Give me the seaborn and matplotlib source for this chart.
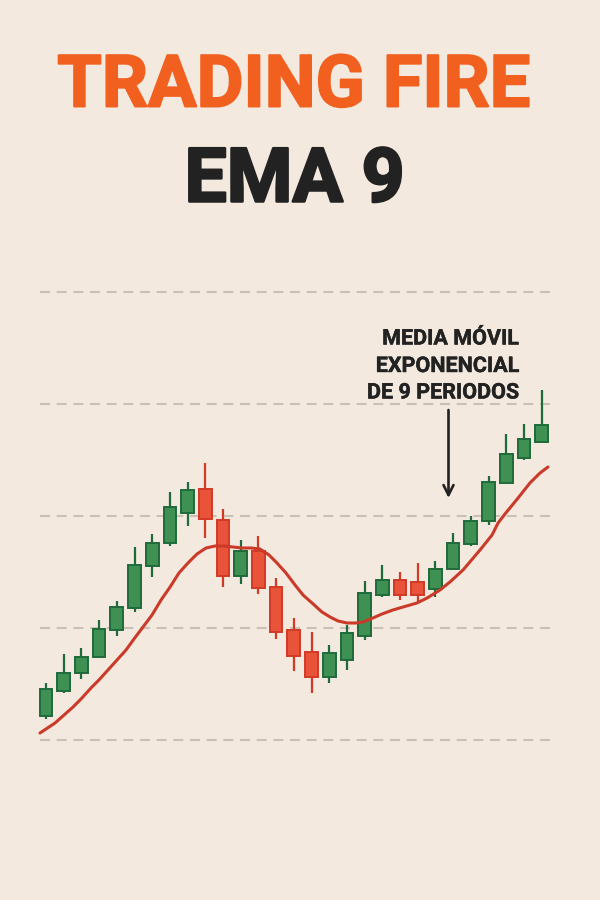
import pandas as pd
import matplotlib.pyplot as plt
import matplotlib.patheffects as pe
import seaborn as sns

# candle values, index points (0 = lowest dashed line)
open_px = [24, 49, 67, 83, 110, 132, 174, 197, 227, 251, 220, 164, 189, 153, 110, 88, 63, 80, 104, 145, 160, 158, 151, 171, 196, 219, 257, 282, 298]
close_px = [51, 67, 83, 111, 133, 175, 197, 233, 250, 221, 164, 189, 152, 108, 84, 63, 87, 107, 147, 160, 145, 145, 171, 197, 219, 258, 286, 301, 315]
high_px = [57, 86, 92, 120, 139, 193, 206, 248, 258, 277, 231, 200, 204, 162, 122, 108, 95, 115, 159, 175, 168, 177, 179, 207, 224, 264, 306, 316, 350]
low_px = [21, 47, 61, 83, 104, 128, 163, 194, 214, 202, 153, 156, 146, 101, 69, 47, 57, 70, 100, 143, 140, 137, 143, 171, 194, 215, 257, 280, 298]

# EMA, t in candle numbers
ema_t = [-0.34, 0, 0.51, 1.02, 1.53, 2.03, 2.54, 2.99, 3.5, 4.01,
         4.52, 4.97, 5.48, 5.99, 6.5, 7.01, 7.51, 8.02, 8.53, 9.04,
         9.55, 10.06, 10.56, 11.07, 11.58, 12.09, 12.6, 13.05, 13.56, 14.07,
         14.52, 15.03, 15.59, 16.05, 16.5, 17.01, 17.51, 17.91, 18.47, 18.98,
         19.6, 20.17, 20.96, 21.53, 22.26, 22.82, 23.56, 24.52, 25.2, 25.54,
         25.93, 26.67, 27.34, 27.91, 28.36]
ema_val = [7, 11, 17, 25, 33, 42, 52, 60, 70, 80,
           90, 101, 113, 125, 140, 153, 167, 177, 186, 192,
           194, 194, 193, 192, 192, 191, 185, 177, 167, 155,
           145, 137, 128, 123, 119, 117, 117, 118, 122, 126,
           130, 133, 137, 142, 150, 158, 170, 190, 205, 217,
           226, 242, 257, 267, 273]

grid_levels = [0, 112, 224, 336, 448]

BG = '#f3e9de'
GREEN = '#3f9153'
GREEN_DK = '#1f6a3a'
RED = '#e8533a'
RED_DK = '#d23a26'
LINE = '#cb3a29'
DARK = '#222222'
ORANGE = '#f26020'

sns.set_theme(style='white')
plt.rcParams['font.family'] = ['Roboto', 'DejaVu Sans']

fig = plt.figure(figsize=(6, 9), dpi=100, facecolor=BG)
ax = fig.add_axes([0, 0, 1, 1])
ax.set_facecolor(BG)
ax.set_xlim(-46 / 17.7, 554 / 17.7)
ax.set_ylim(-160, 740)

ax.hlines(grid_levels, -0.34, 28.7, color='#c9c1b6', lw=1.5, linestyles=(0, (4.8, 3.2)), zorder=1)

for i in range(len(open_px)):
    up = close_px[i] >= open_px[i]
    face, edge = (GREEN, GREEN_DK) if up else (RED, RED_DK)
    ax.vlines(i, low_px[i], high_px[i], color=edge, lw=1.6, zorder=2)
    ax.bar(i, abs(close_px[i] - open_px[i]), bottom=min(open_px[i], close_px[i]), width=0.72,
           color=face, edgecolor=edge, linewidth=1.4, zorder=3)

df = pd.DataFrame({'t': ema_t, 'ema': ema_val})
sns.lineplot(data=df, x='t', y='ema', color=LINE, lw=2.2, ax=ax, zorder=4)
ax.axis('off')


def heavy(width, color):
    return [pe.withStroke(linewidth=width, foreground=color)]


fig.text(294 / 600, 1 - 106.5 / 900, 'TRADING FIRE', ha='center', va='baseline', fontsize=52,
         fontweight='bold', color=ORANGE, path_effects=heavy(1.4, ORANGE))
fig.text(294.5 / 600, 1 - 201.5 / 900, 'EMA 9', ha='center', va='baseline', fontsize=54,
         fontweight='bold', color=DARK, path_effects=heavy(1.8, DARK))

for label, py in zip(['MEDIA MÓVIL', 'EXPONENCIAL', 'DE 9 PERIODOS'], [344.5, 372, 398.5]):
    fig.text(519 / 600, 1 - py / 900, label, ha='right', va='baseline', fontsize=15.5,
             fontweight='bold', color=DARK, path_effects=heavy(0.3, DARK))

ax.annotate('', xy=(22.74, 242), xytext=(22.74, 330),
            arrowprops=dict(arrowstyle='->', color=DARK, lw=1.9, mutation_scale=18, shrinkA=0, shrinkB=0),
            zorder=5)

fig.savefig('out.png', dpi=100, facecolor=BG)
